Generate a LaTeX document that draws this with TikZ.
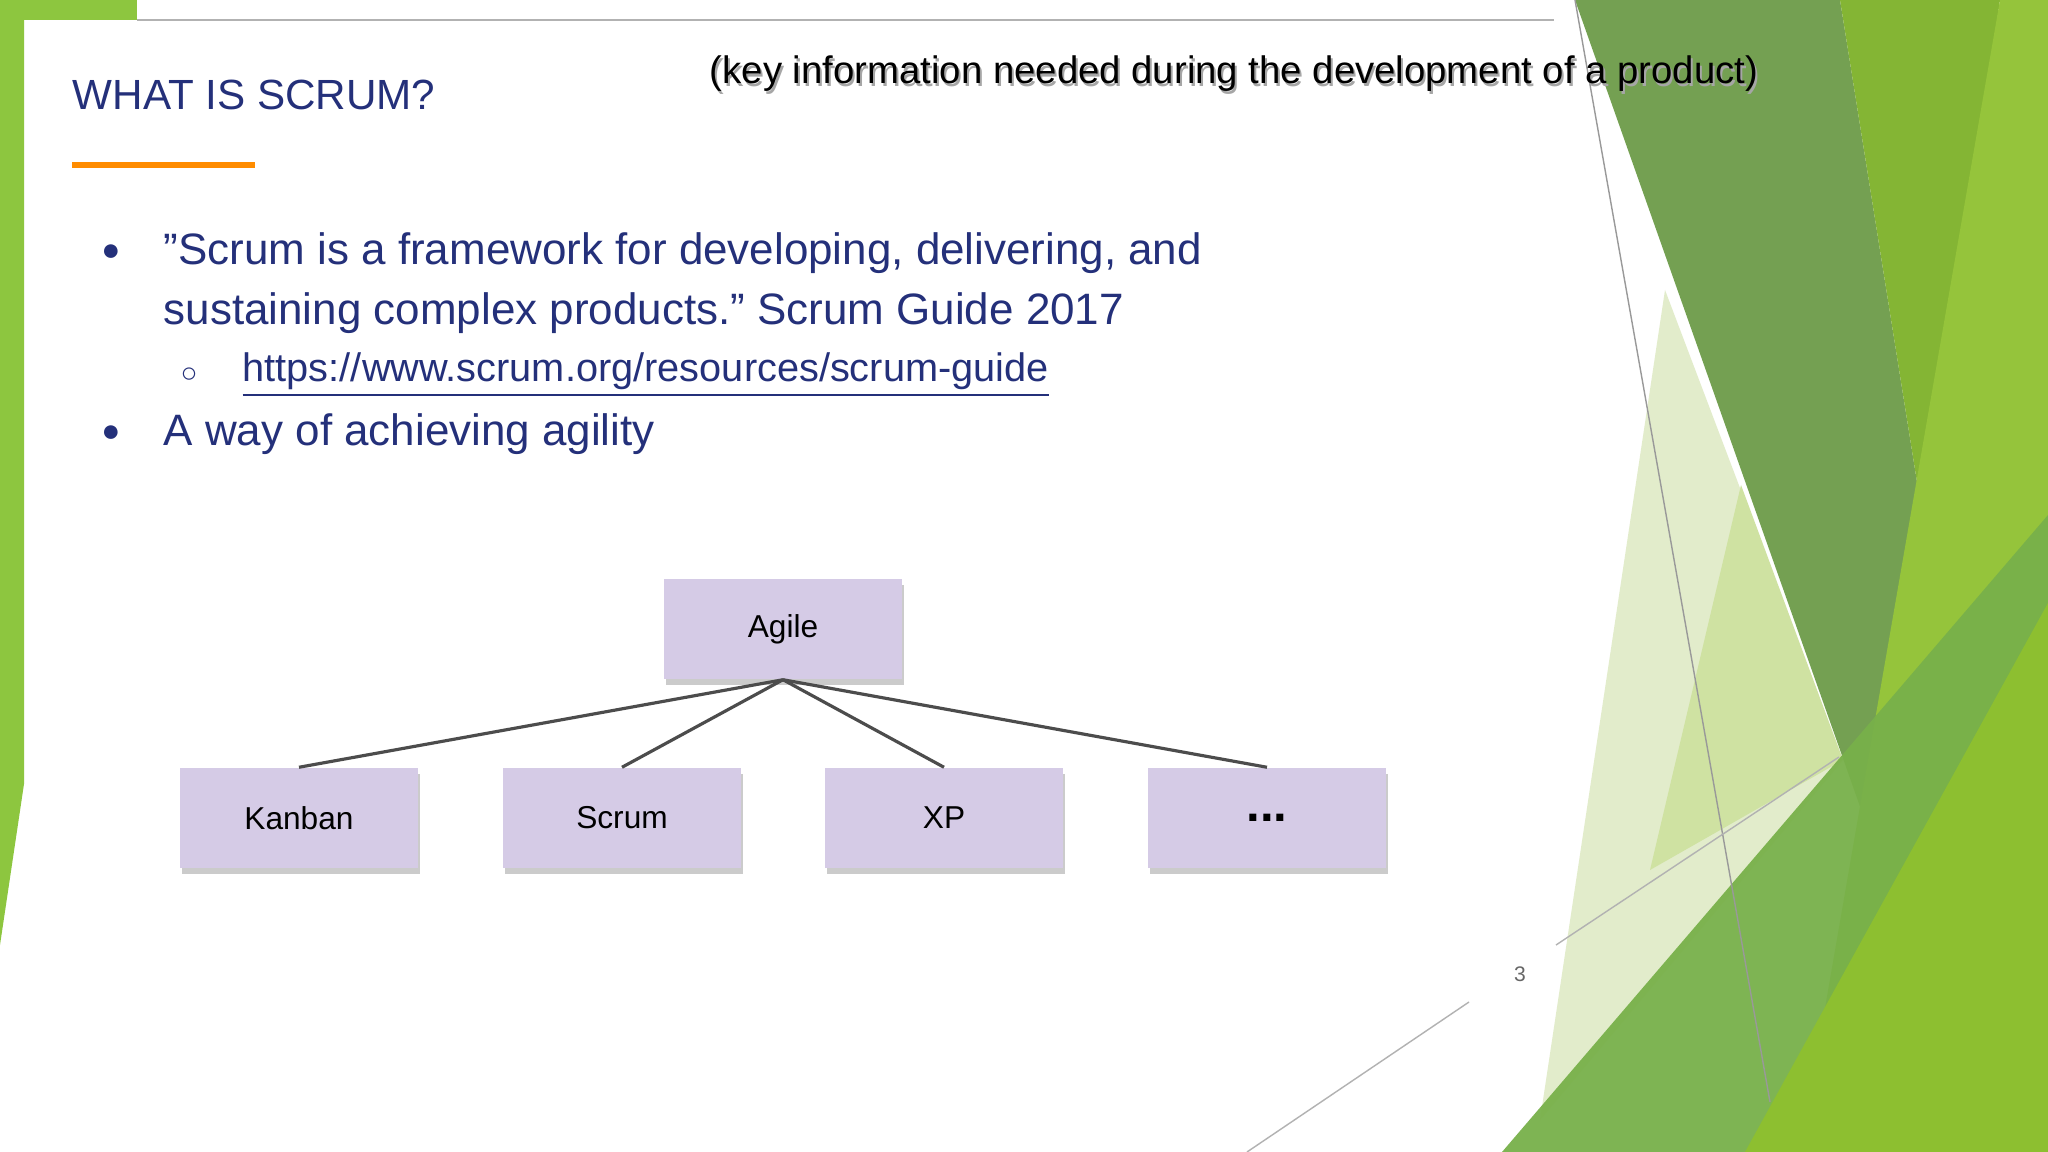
\documentclass[tikz,border=0pt]{standalone}
\usepackage{fontspec}
\setmainfont{Liberation Sans}
\usetikzlibrary{shadows}
\definecolor{navy}{HTML}{24307A}
\definecolor{boxfill}{HTML}{D5CBE6}
\definecolor{olive}{HTML}{74A052}
\definecolor{midg}{HTML}{84B534}
\definecolor{brightg}{HTML}{95C43B}
\definecolor{bandg}{HTML}{78B04A}
\definecolor{limeg}{HTML}{8DBF30}
\definecolor{paleg}{HTML}{E2ECCB}
\definecolor{pale2}{HTML}{CFE2A2}
\definecolor{leftg}{HTML}{8DC63F}
\tikzset{
  mbox/.style={draw=none,fill=boxfill,minimum width=2.37cm,minimum height=1.0cm,font=\fontsize{9}{10}\selectfont,drop shadow={shadow xshift=0.02cm,shadow yshift=-0.06cm,fill=black!40}},
  btext/.style={anchor=west,text=navy,font=\fontsize{12.5}{14}\selectfont,inner sep=0pt},
  conn/.style={draw=black!70,line width=0.9pt},
  thin/.style={draw=black!30,line width=0.4pt}
}
\begin{document}
\begin{tikzpicture}[x=0.01cm,y=-0.01cm]
\useasboundingbox (0,0) rectangle (2048,1152);
\fill[white] (0,0) rectangle (2048,1152);
% left decoration
\fill[leftg] (0,0) rectangle (137,20);
\fill[leftg] (0,0) -- (24,0) -- (24,784) -- (0,945) -- cycle;
\draw[thin] (137,20) -- (1554,20);
% right facets
\fill[paleg] (1665,290) -- (1843,760) -- (1540,1120) -- cycle;
\fill[pale2] (1741,485) -- (1843,760) -- (1650,870) -- cycle;
\fill[olive] (1575,0) -- (1840,0) -- (1924,526) -- (1875,849) -- cycle;
\fill[midg] (1840,0) -- (2000,0) -- (1924,526) -- cycle;
\fill[brightg] (2000,0) -- (2048,0) -- (2048,1152) -- (1800,1152) -- cycle;
\fill[bandg,opacity=0.95] (1502,1152) -- (2048,515) -- (2048,1152) -- cycle;
\fill[limeg] (1745,1152) -- (2048,603) -- (2048,1152) -- cycle;
\draw[thin,draw=black!40] (1575,0) -- (1770,1102);
\draw[thin] (1556,945) -- (1839,757);
\draw[thin] (1247,1152) -- (1469,1002);
% title
\node[anchor=west,text=navy,font=\fontsize{12}{14}\selectfont,inner sep=0pt] (title) at (72,95) {WHAT IS SCRUM?};
\draw[draw=orange!90!yellow,line width=1.6pt] (72,165) -- (255,165);
\node[font=\fontsize{10.9}{12}\selectfont,inner sep=0pt,text=black!35] (subs) at (1236,77) {(key information needed during the development of a product)};
\node[font=\fontsize{10.9}{12}\selectfont,inner sep=0pt] (sub) at (1234,74) {(key information needed during the development of a product)};
% bullets
\node[text=navy,font=\fontsize{9}{10}\selectfont] (b1) at (111,253) {●};
\node[btext] (l1) at (163,253) {\symbol{34}Scrum is a framework for developing, delivering, and};
\node[btext] (l2) at (163,313) {sustaining complex products.\symbol{34} Scrum Guide 2017};
\node[text=navy,font=\fontsize{8}{10}\selectfont] (b2) at (189,375) {○};
\node[btext,font=\fontsize{11.3}{13}\selectfont] (link) at (242,375) {\underline{https://www.scrum.org/resources/scrum-guide}};
\node[text=navy,font=\fontsize{9}{10}\selectfont] (b3) at (111,434) {●};
\node[btext] (l3) at (163,434) {A way of achieving agility};
% tree
\node[mbox] (agile) at (783,629) {Agile};
\node[mbox] (kanban) at (299,818) {Kanban};
\node[mbox] (scrum) at (622,818) {Scrum};
\node[mbox] (xp) at (944,818) {XP};
\node[mbox,font=\fontsize{14}{14}\selectfont] (dots) at (1267,818) {\textbf{...}};
\foreach \n in {kanban,scrum,xp,dots}{\draw[conn] (agile.south) -- (\n.north);}
\node[text=black!60,font=\fontsize{6}{7}\selectfont] (pg) at (1520,974) {3};
\end{tikzpicture}
\end{document}
